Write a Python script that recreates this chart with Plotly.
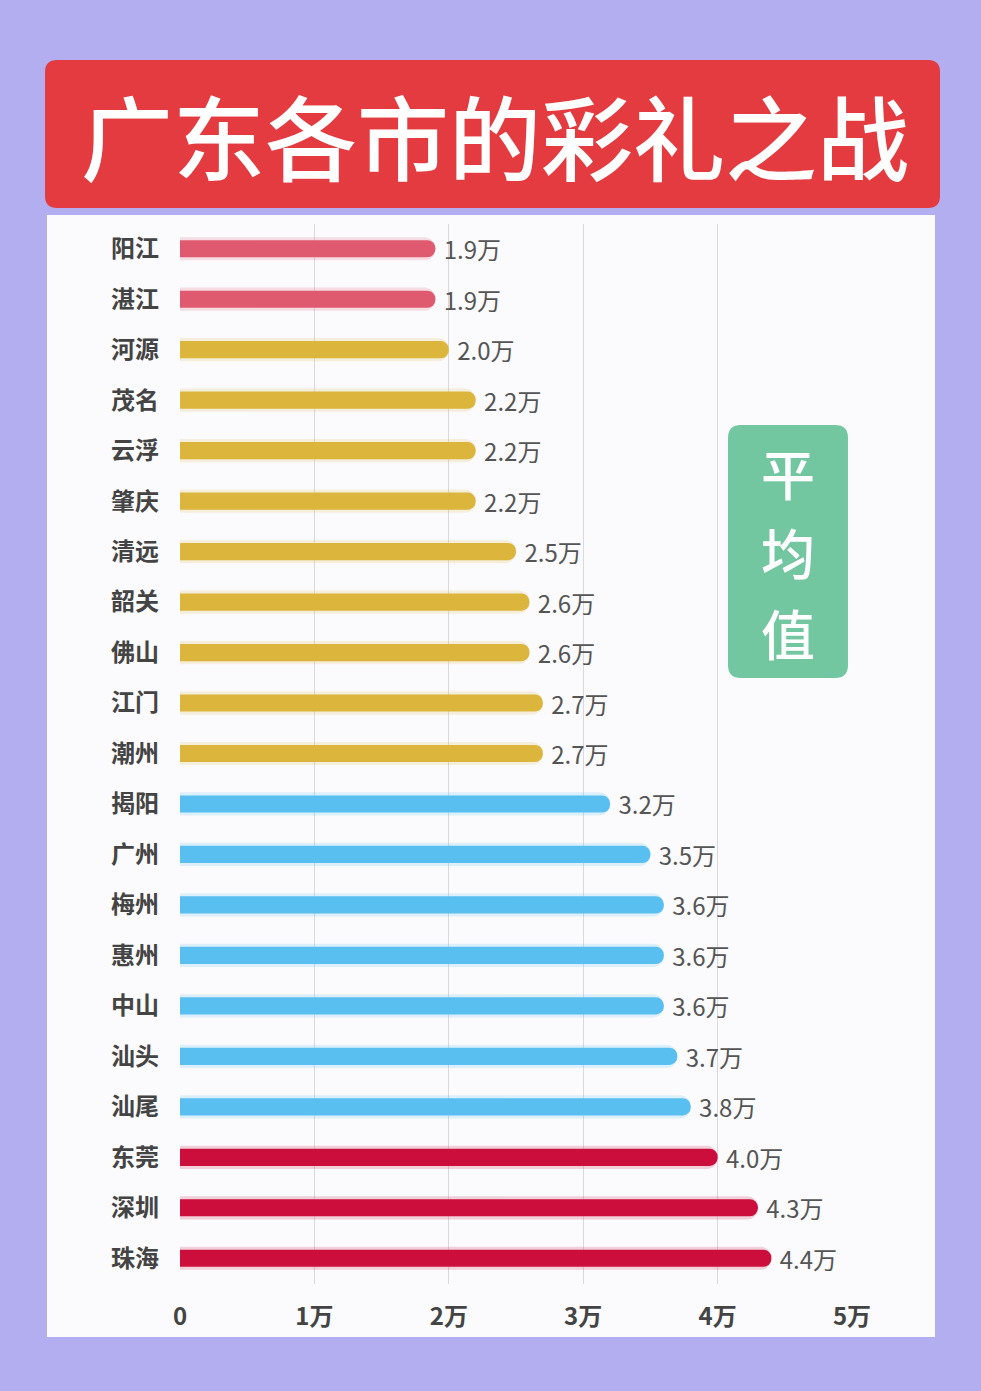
import plotly.graph_objects as go

W, H = 981, 1391

cities = ["阳江", "湛江", "河源", "茂名", "云浮", "肇庆", "清远", "韶关", "佛山", "江门", "潮州",
          "揭阳", "广州", "梅州", "惠州", "中山", "汕头", "汕尾", "东莞", "深圳", "珠海"]
values = [1.9, 1.9, 2.0, 2.2, 2.2, 2.2, 2.5, 2.6, 2.6, 2.7, 2.7,
          3.2, 3.5, 3.6, 3.6, 3.6, 3.7, 3.8, 4.0, 4.3, 4.4]
bar_colors = (["#e05a6f"] * 2 + ["#dcb53c"] * 9 + ["#58bff0"] * 7 + ["#cc0e3c"] * 3)
xtick_vals = [0, 1, 2, 3, 4, 5]
xtick_text = ["0", "1万", "2万", "3万", "4万", "5万"]
title_text = "广东各市的彩礼之战"
badge_chars = ["平", "均", "值"]

FONT = "Noto Sans CJK SC"


def px_x(p):
    return p / W


def px_y(p):
    return 1 - p / H


def rounded_rect(x0, y0, x1, y1, r):
    def P(x, y):
        return f"{px_x(x):.5f},{px_y(y):.5f}"
    return (f"M {P(x0 + r, y0)} L {P(x1 - r, y0)} Q {P(x1, y0)} {P(x1, y0 + r)} "
            f"L {P(x1, y1 - r)} Q {P(x1, y1)} {P(x1 - r, y1)} "
            f"L {P(x0 + r, y1)} Q {P(x0, y1)} {P(x0, y1 - r)} "
            f"L {P(x0, y0 + r)} Q {P(x0, y0)} {P(x0 + r, y0)} Z")


fig = go.Figure()

# soft halo behind bars
fig.add_trace(go.Bar(
    x=values, y=cities, orientation="h",
    marker=dict(color=bar_colors, opacity=0.18, cornerradius="50%", line=dict(width=0)),
    width=0.46, hoverinfo="skip", showlegend=False,
))

fig.add_trace(go.Bar(
    x=values, y=cities, orientation="h",
    marker=dict(color=bar_colors, cornerradius="50%", line=dict(width=0)),
    width=0.34,
    text=["\u00a0" + f"{v:.1f}万" for v in values],
    textposition="outside",
    constraintext="none",
    textfont=dict(family=FONT, size=24, color="#555555"),
    cliponaxis=False,
    showlegend=False,
))

shapes = [
    dict(type="rect", xref="paper", yref="paper", x0=px_x(47), x1=px_x(935),
         y0=px_y(1337), y1=px_y(215), fillcolor="#fbfafd", line=dict(width=0), layer="below"),
    dict(type="path", xref="paper", yref="paper", path=rounded_rect(45, 60, 940, 208, 12),
         fillcolor="#e33b3f", line=dict(width=0), layer="below"),
    dict(type="path", xref="paper", yref="paper", path=rounded_rect(728, 425, 848, 678, 13),
         fillcolor="#72c7a1", line=dict(width=0), layer="above"),
]

annotations = [
    dict(text=title_text, xref="paper", yref="paper", x=px_x(495), y=px_y(134),
         xanchor="center", yanchor="middle", showarrow=False,
         font=dict(family=FONT, size=92, color="#ffffff", weight=500)),
]
for i, ch in enumerate(badge_chars):
    annotations.append(dict(text=ch, xref="paper", yref="paper", x=px_x(788), y=px_y(472 + i * 80),
                            xanchor="center", yanchor="middle", showarrow=False,
                            font=dict(family=FONT, size=54, color="#ffffff", weight=500)))

fig.update_layout(
    width=W, height=H, autosize=False,
    margin=dict(l=0, r=0, t=0, b=0, pad=0, autoexpand=False),
    paper_bgcolor="#b2aef0",
    plot_bgcolor="rgba(0,0,0,0)",
    barmode="overlay",
    shapes=shapes,
    annotations=annotations,
    xaxis=dict(domain=[px_x(180), px_x(852)], range=[0, 5],
               tickvals=xtick_vals, ticktext=xtick_text, automargin=False,
               showgrid=True, gridcolor="#d9d9df", gridwidth=1, zeroline=False,
               showline=False, ticks="", ticklabelstandoff=16,
               tickfont=dict(family=FONT, size=24, color="#444444", weight=600)),
    yaxis=dict(domain=[px_y(1283.5), px_y(223.5)], type="category",
               range=[len(cities) - 0.5, -0.5], automargin=False,
               showgrid=False, zeroline=False, showline=False, ticks="",
               ticklabelstandoff=20,
               tickfont=dict(family=FONT, size=24, color="#444444", weight=600)),
    font=dict(family=FONT),
)

fig.write_html("out.html", config={"responsive": False, "displayModeBar": False},
               post_script="document.body.style.margin='0';document.body.style.overflow='hidden';")
